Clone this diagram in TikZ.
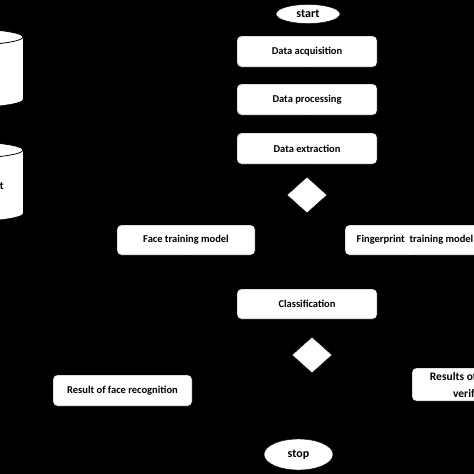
\documentclass[tikz,border=0pt]{standalone}
\usepackage{fontspec}
\setmainfont{Carlito}
\usetikzlibrary{shapes.geometric,arrows.meta}
\begin{document}
\begin{tikzpicture}[x=1pt,y=-1pt,
  box/.style={draw=black,fill=white,rounded corners=4pt,minimum width=140pt,minimum height=31pt,inner sep=0pt,font=\fontsize{10.5}{12.5}\selectfont\bfseries,align=center},
  term/.style={draw=black,fill=white,ellipse,inner sep=0pt,font=\fontsize{12}{14}\selectfont\bfseries},
  dec/.style={draw=black,fill=white,diamond,inner sep=0pt,minimum width=40pt,minimum height=36pt},
  conn/.style={draw=black,-{Stealth[length=5pt]}},
  cyl/.style={fill=white}]
\clip (0,0) rectangle (474,474);
\fill[black] (0,0) rectangle (474,474);
% databases (cylinders, partly outside the picture)
\fill[cyl] (-125,37) rectangle (23,99);
\fill[cyl] (-51,99) ellipse [x radius=74, y radius=9];
\fill[cyl] (-51,37) ellipse [x radius=74, y radius=9];
\draw[black,line width=0.8pt] (-51,37) ellipse [x radius=74, y radius=9];
\fill[cyl] (-125,150) rectangle (23,213);
\fill[cyl] (-51,213) ellipse [x radius=74, y radius=9];
\fill[cyl] (-51,150) ellipse [x radius=74, y radius=9];
\draw[black,line width=0.8pt] (-51,150) ellipse [x radius=74, y radius=9];
\node[anchor=east,inner sep=0pt,font=\fontsize{11}{13}\selectfont\bfseries] (dbt) at (4,186) {t};
% flow
\node[term,minimum width=64pt,minimum height=19pt] (start) at (308,14) {start};
\node[box] (acq) at (307,51.5) {Data acquisition};
\node[box] (proc) at (307,99.5) {Data processing};
\node[box] (extr) at (307,148.5) {Data extraction};
\node[dec] (d1) at (307,195) {};
\node[box,minimum width=138pt,minimum height=30pt] (face) at (186,240) {Face training model};
\node[box,minimum width=140pt,minimum height=30pt] (fing) at (415,240) {Fingerprint\ \ training model};
\node[box,minimum height=30pt] (cls) at (307,304) {Classification};
\node[dec] (d2) at (312,355) {};
\node[box,minimum width=139pt] (rface) at (122.5,390.5) {Result of face recognition};
\node[box,minimum width=136pt,minimum height=33pt,font=\fontsize{11.5}{17}\selectfont\bfseries] (rfing) at (480,384.5) {Results of fingerprint\\verification};
\node[term,minimum width=69pt,minimum height=31pt] (stop) at (298.5,454.5) {stop};
% connectors (black, as in the reference)
\draw[conn] (start) -- (acq);
\draw[conn] (acq) -- (proc);
\draw[conn] (proc) -- (extr);
\draw[conn] (extr) -- (d1);
\draw[conn] (d1.west) -| (face.north);
\draw[conn] (d1.east) -| (fing.north);
\draw[conn] (face.south) |- (cls.west);
\draw[conn] (fing.south) |- (cls.east);
\draw[conn] (cls) -- (d2);
\draw[conn] (d2.west) -| (rface.north);
\draw[conn] (d2.east) -| (rfing.north);
\draw[conn] (rface.south) |- (stop.west);
\draw[conn] (rfing.south) |- (stop.east);
\end{tikzpicture}
\end{document}
